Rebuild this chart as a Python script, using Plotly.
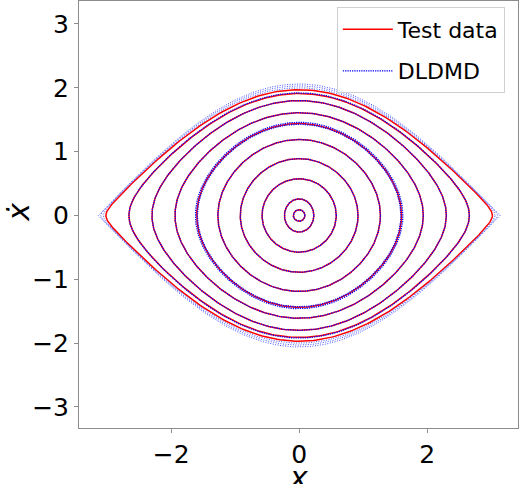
import numpy as np
import plotly.graph_objects as go

# Orbit amplitudes (max |x| at y=0, max |xdot| at x=0)
test_x_amp = [0.09, 0.23, 0.58, 0.92, 1.27, 1.60, 1.94, 2.30, 2.66, 3.02]
test_y_amp = [0.09, 0.26, 0.575, 0.89, 1.19, 1.44, 1.61, 1.80, 1.91, 1.97]

# DLDMD orbits that sit on the test orbits
dldmd_x_amp = [0.09, 0.23, 0.58, 0.92, 1.27, 1.59, 1.62, 1.94, 2.30, 2.66]
dldmd_y_amp = [0.09, 0.26, 0.575, 0.89, 1.19, 1.43, 1.46, 1.61, 1.80, 1.92]
# DLDMD loops that drift outside the outermost test orbit
dldmd_outer_x_amp = [3.06, 3.10, 3.14]
dldmd_outer_y_amp = [2.00, 2.03, 2.06]

x_ticks = [-2, 0, 2]
y_ticks = [-3, -2, -1, 0, 1, 2, 3]


def orbit_points(xa_list, ya_list, n=400):
    """Closed pendulum-like level curves through the read amplitudes."""
    xs, ys = [], []
    t = np.linspace(0, 2 * np.pi, n)
    for xa, ya in zip(xa_list, ya_list):
        x = xa * np.cos(t)
        shape = np.sqrt(np.clip((np.cos(x) - np.cos(xa)) / (1 - np.cos(xa)), 0, None))
        y = np.sign(np.sin(t)) * ya * shape
        xs += list(x) + [None]
        ys += list(y) + [None]
    return xs, ys


tx, ty = orbit_points(test_x_amp, test_y_amp)
dx, dy = orbit_points(dldmd_x_amp, dldmd_y_amp)
ox, oy = orbit_points(dldmd_outer_x_amp, dldmd_outer_y_amp)

fig = go.Figure()
fig.add_trace(go.Scatter(x=tx, y=ty, mode="lines", name="Test data",
                         line=dict(color="#ff0000", width=1.5)))
fig.add_trace(go.Scatter(x=dx, y=dy, mode="lines", name="DLDMD", legendgroup="dldmd",
                         line=dict(color="#0000ff", width=1.3, dash="1.3px,1px")))
fig.add_trace(go.Scatter(x=ox, y=oy, mode="lines", name="DLDMD", legendgroup="dldmd",
                         showlegend=False,
                         line=dict(color="#3344ff", width=0.9, dash="1px,1.5px")))

font = "DejaVu Sans, sans-serif"
axis_common = dict(showgrid=False, zeroline=False, showline=True, mirror=True,
                   linecolor="#8c8c8c", linewidth=1, ticks="outside", ticklen=4,
                   tickcolor="#8c8c8c", automargin=False,
                   tickfont=dict(family=font, size=25, color="black"))

fig.update_layout(
    width=520, height=484,
    margin=dict(l=79, r=2, t=1, b=56),
    paper_bgcolor="white", plot_bgcolor="white",
    showlegend=True,
    legend=dict(x=0.97, y=0.985, xanchor="right", yanchor="top", itemwidth=50,
                bgcolor="rgba(255,255,255,0.8)", bordercolor="#d0d0d0", borderwidth=1,
                font=dict(family=font, size=22, color="black")),
    xaxis=dict(range=[-3.44, 3.42], tickvals=x_ticks,
               ticktext=["\u22122", "0", "2"], **axis_common),
    yaxis=dict(range=[-3.33, 3.36], tickvals=y_ticks,
               ticktext=["\u22123", "\u22122", "\u22121", "0", "1", "2", "3"],
               **axis_common),
    annotations=[
        dict(text="<i>x</i>", xref="paper", yref="paper", x=0.501, y=-0.117,
             xanchor="center", yanchor="middle", showarrow=False,
             font=dict(family=font, size=30, color="black")),
        dict(text="<i>x\u0307</i>", xref="paper", yref="paper", x=-0.137, y=0.506,
             xanchor="center", yanchor="middle", textangle=-90, showarrow=False,
             font=dict(family=font, size=30, color="black")),
    ],
)

fig.write_html("out.html", config={"displayModeBar": False})

# remove the browser's default body margin so the figure sits at the page corner
with open("out.html", encoding="utf-8") as f:
    html = f.read()
html = html.replace("<body>", '<body style="margin:0;padding:0;">', 1)
with open("out.html", "w", encoding="utf-8") as f:
    f.write(html)
